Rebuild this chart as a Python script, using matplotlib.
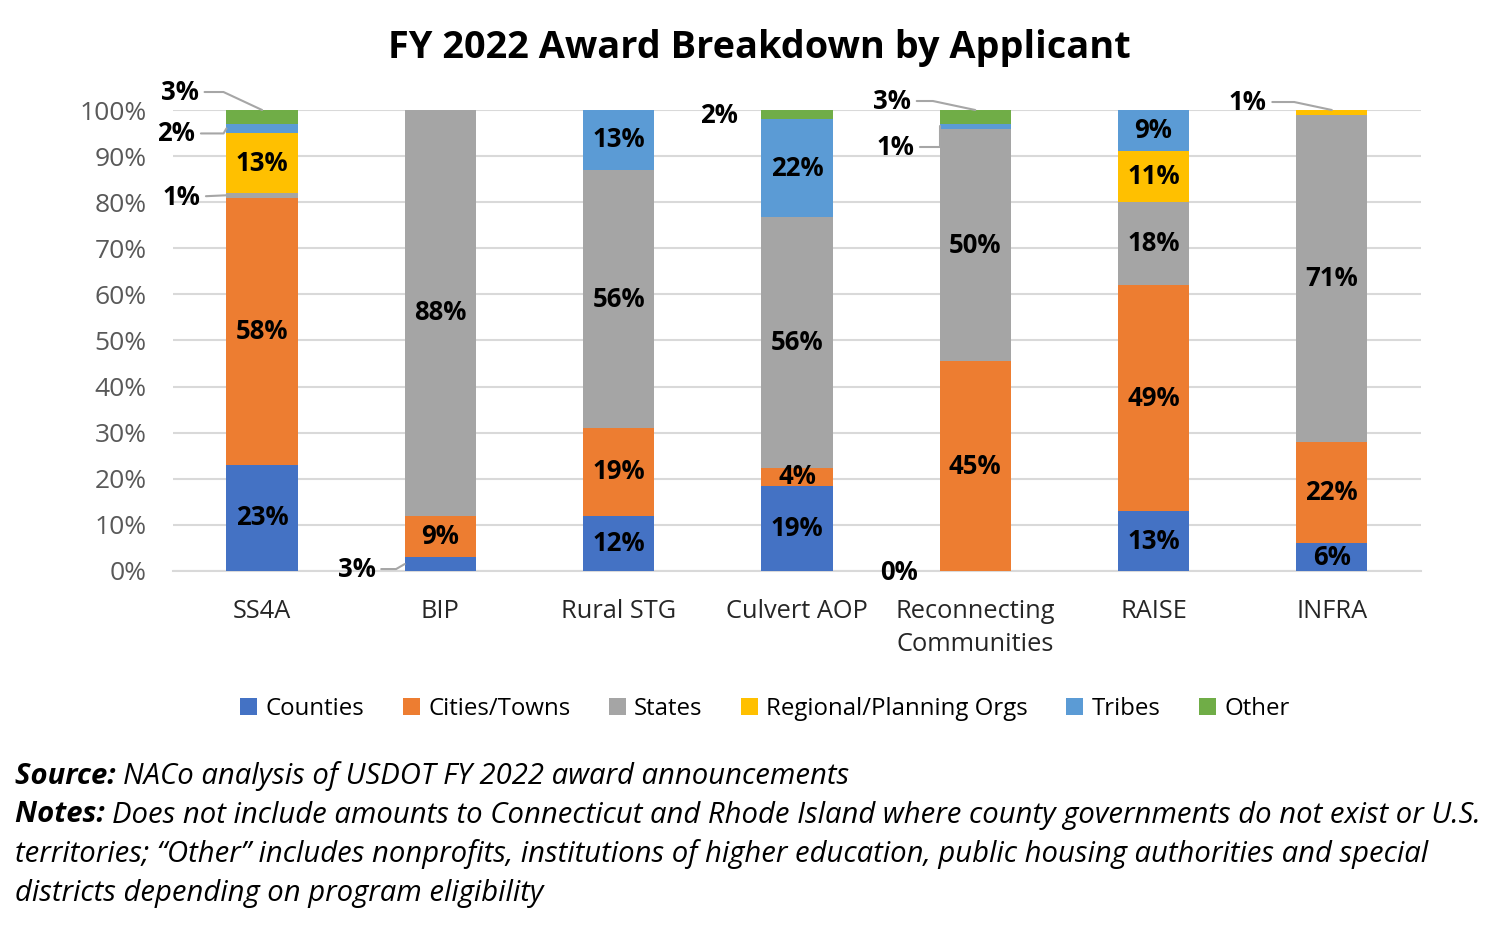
import matplotlib.pyplot as plt
import numpy as np

plt.rcParams['font.family'] = ['Open Sans', 'DejaVu Sans']

# data (percent of awards, as labelled)
programs = ['SS4A', 'BIP', 'Rural STG', 'Culvert AOP', 'Reconnecting\nCommunities', 'RAISE', 'INFRA']
series = ['Counties', 'Cities/Towns', 'States', 'Regional/Planning Orgs', 'Tribes', 'Other']
counties = [23, 3, 12, 19, 0, 13, 6]
cities = [58, 9, 19, 4, 45, 49, 22]
states = [1, 88, 56, 56, 50, 18, 71]
regional = [13, 0, 0, 0, 0, 11, 1]
tribes = [2, 0, 13, 22, 1, 9, 0]
other = [3, 0, 0, 2, 3, 0, 0]

colors = ['#4472C4', '#ED7D31', '#A5A5A5', '#FFC000', '#5B9BD5', '#70AD47']

vals = np.array([counties, cities, states, regional, tribes, other], dtype=float)
shares = vals / vals.sum(axis=0) * 100  # 100% stacked

fig = plt.figure(figsize=(15, 9.26), dpi=100)
ax = fig.add_axes([0.1153, 0.3834, 0.832, 0.4978])

x = np.arange(len(programs))
bw = 0.4
bottom = np.zeros(len(programs))
for i, name in enumerate(series):
    ax.bar(x, shares[i], bw, bottom=bottom, color=colors[i], label=name, zorder=3)
    bottom += shares[i]

# small segments labelled outside: (program, series) -> (anchor, offset px, connector angle or None)
outside = {
    (0, 5): ('top', (-82, 18), -25),
    (0, 4): ('left', (-50, -5), 60),
    (0, 2): ('left', (-45, -2), 0),
    (1, 0): ('left', (-48, -5), 30),
    (3, 5): ('left', (-42, -1), None),
    (4, 5): ('top', (-83, 9), -12),
    (4, 4): ('left', (-44, -21), 90),
    (4, 0): ('left', (-41, -2), None),
    (6, 3): ('top', (-84, 8), -12),
}

cum = np.cumsum(shares, axis=0)
for j in range(len(programs)):
    for i in range(len(series)):
        v = vals[i, j]
        lo = cum[i, j] - shares[i, j]
        mid = lo + shares[i, j] / 2
        txt = f'{v:.0f}%'
        if (j, i) in outside:
            anchor, off, ang = outside[(j, i)]
            if anchor == 'top':
                xy = (x[j], cum[i, j])
            else:
                xy = (x[j] - bw / 2, mid)
            props = None
            if ang is not None:
                if ang == 0:
                    cs = 'arc3'
                else:
                    cs = f'angle,angleA=0,angleB={ang},rad=0'
                props = dict(arrowstyle='-', color='#A6A6A6', lw=1.5, shrinkA=2, shrinkB=0,
                             connectionstyle=cs)
            ax.annotate(txt, xy=xy, xytext=off, textcoords='offset pixels',
                        ha='center', va='center', fontsize=18.5, fontweight='bold',
                        color='black', arrowprops=props, zorder=5)
        elif v >= 4:
            ax.text(x[j], mid, txt, ha='center', va='center', fontsize=18.5,
                    fontweight='bold', color='black', zorder=5)

ax.set_xlim(-0.5, len(programs) - 0.5)
ax.set_ylim(0, 100)
ax.set_yticks(np.arange(0, 101, 10))
ax.set_yticklabels([f'{t}%' for t in range(0, 101, 10)])
ax.set_xticks(x)
ax.set_xticklabels(programs, linespacing=1.45)
ax.tick_params(axis='y', length=0, labelsize=19, labelcolor='#595959', pad=19)
ax.tick_params(axis='x', length=0, labelsize=18.3, labelcolor='#262626', pad=20)
ax.grid(axis='y', color='#D9D9D9', linewidth=1.5, zorder=0)
for s in ['top', 'right', 'left']:
    ax.spines[s].set_visible(False)
ax.spines['bottom'].set_color('#D9D9D9')
ax.spines['bottom'].set_linewidth(1.5)

fig.suptitle('FY 2022 Award Breakdown by Applicant', x=0.506, y=0.948, va='center',
             fontsize=27.3, fontweight='bold')

fig.legend(loc='center', bbox_to_anchor=(0.51, 0.234), ncol=6, frameon=False,
           fontsize=17.3, handlelength=0.7, handleheight=0.7, handletextpad=0.35,
           columnspacing=1.6)

lines = [
    ('Source:', 'NACo analysis of USDOT FY 2022 award announcements'),
    ('Notes:', 'Does not include amounts to Connecticut and Rhode Island where county governments do not exist or U.S.'),
    ('', 'territories; \u201cOther\u201d includes nonprofits, institutions of higher education, public housing authorities and special'),
    ('', 'districts depending on program eligibility'),
]
renderer = fig.canvas.get_renderer()
for k, (head, body) in enumerate(lines):
    yy = 1 - (776 + 39 * k) / 926
    xx = 15 / 1500
    if head:
        t = fig.text(xx, yy, head + ' ', fontsize=21.1, style='italic', fontweight='bold', va='center')
        bb = t.get_window_extent(renderer)
        xx = bb.x1 / fig.bbox.width
    fig.text(xx, yy, body, fontsize=21.1, style='italic', va='center')

fig.savefig('out.png', dpi=100)
